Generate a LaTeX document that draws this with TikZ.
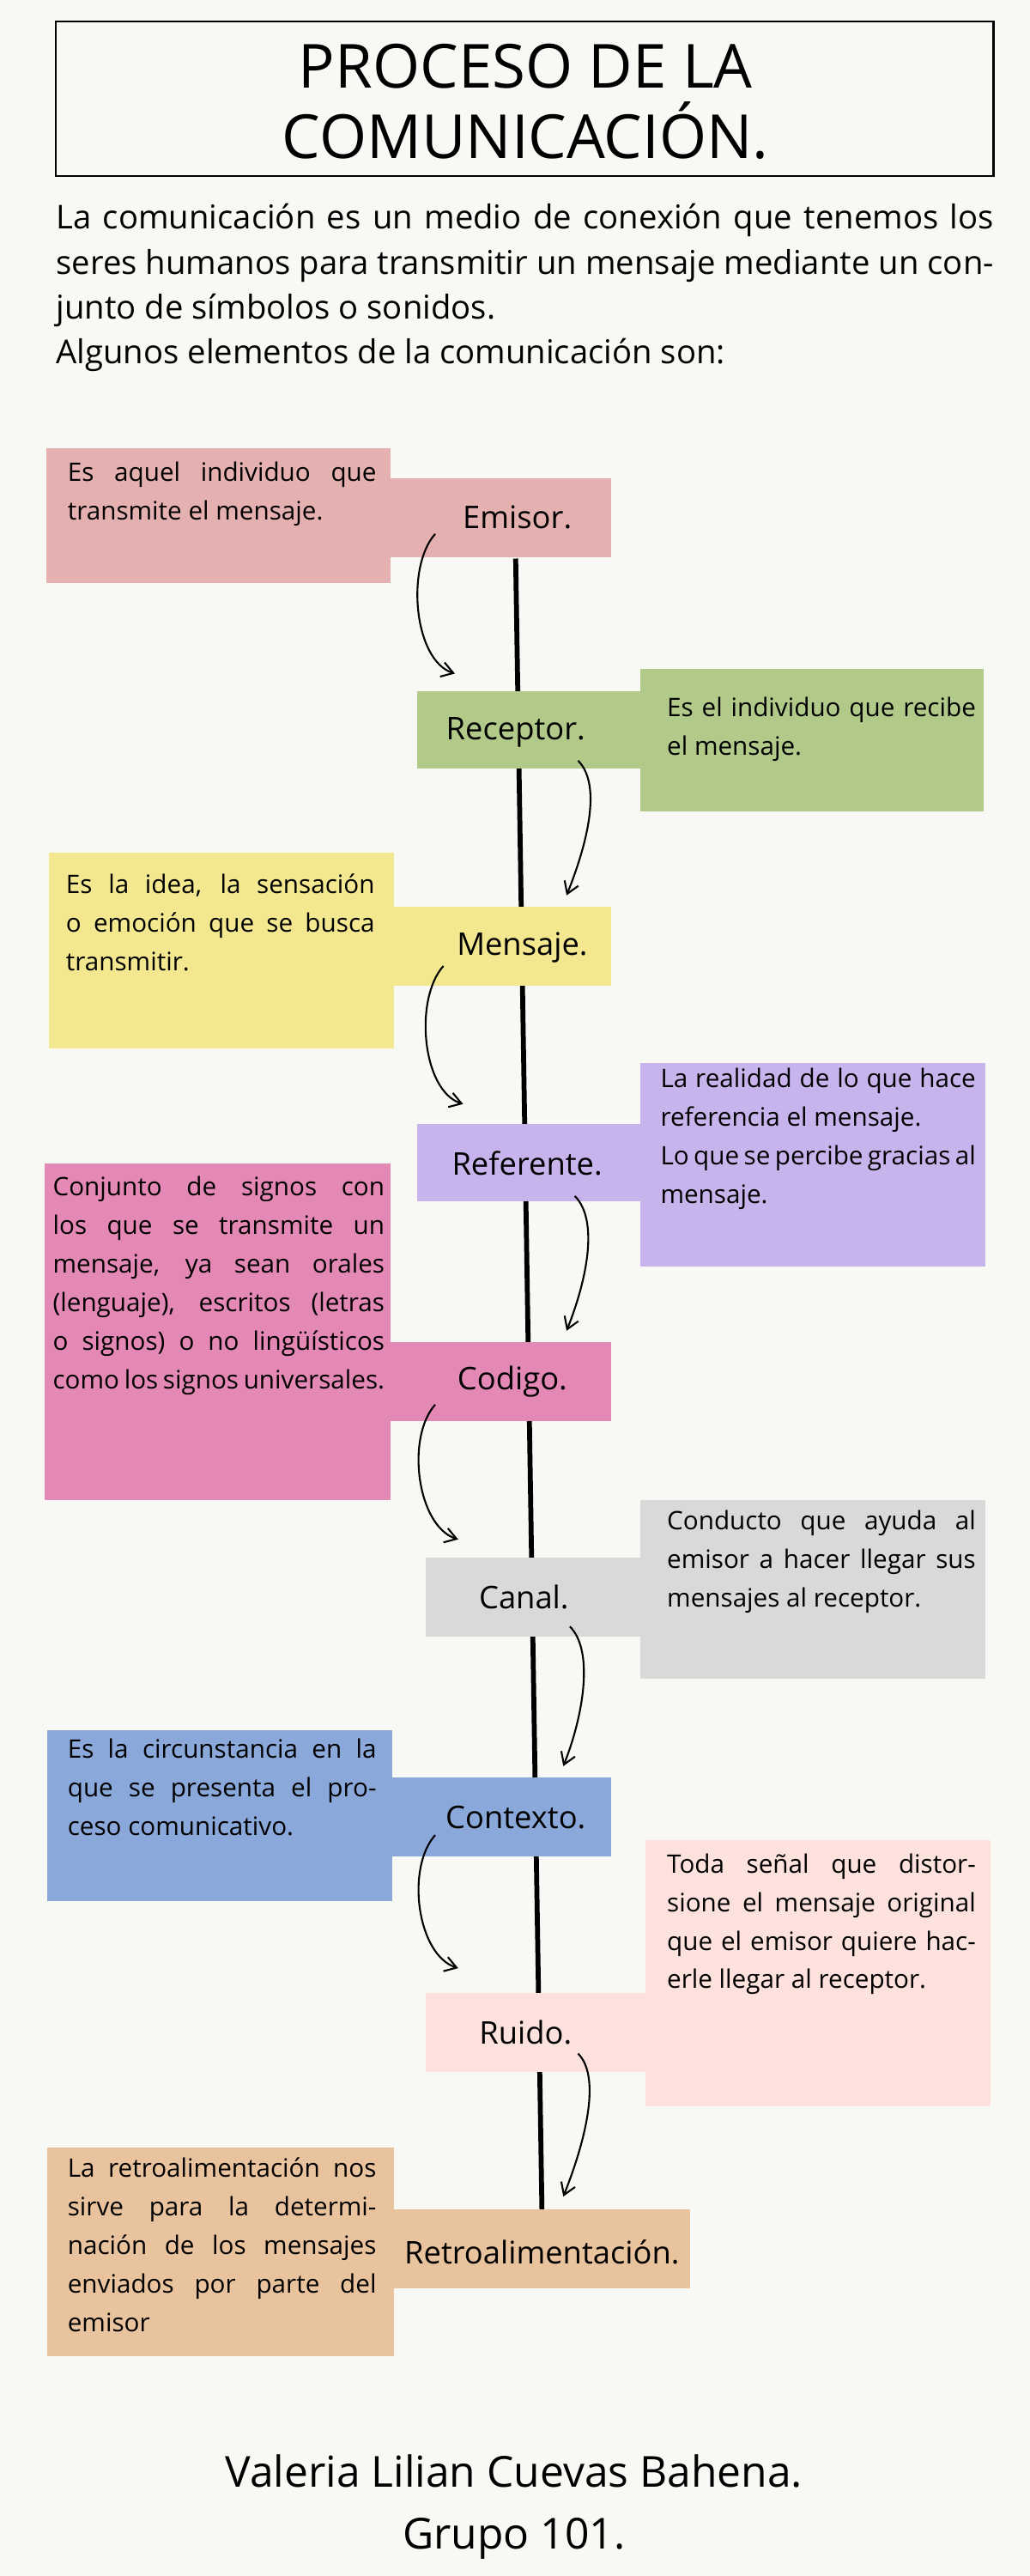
\documentclass[tikz,border=0pt]{standalone}
\usepackage{fontspec}
\setmainfont{Open Sans}
\usetikzlibrary{arrows.meta}
\definecolor{bg}{HTML}{F8F8F4}
\definecolor{cEmi}{HTML}{E5B1B0}
\definecolor{cRec}{HTML}{B1CA8A}
\definecolor{cMen}{HTML}{F3E890}
\definecolor{cRef}{HTML}{C8B4EC}
\definecolor{cCod}{HTML}{E489B6}
\definecolor{cCan}{HTML}{D9D9D9}
\definecolor{cCon}{HTML}{8AA8DA}
\definecolor{cRui}{HTML}{FDE1DC}
\definecolor{cRet}{HTML}{E9C39D}
\tikzset{
  lbl/.style={inner sep=0pt,font=\fontsize{19}{23}\selectfont},
  desc/.style={anchor=north west,inner sep=0pt,text width=#1,align=justify,font=\fontsize{15.5}{23.5}\selectfont},
  arr/.style={-{Straight Barb[length=7pt,width=9pt]},line width=1.1pt,black},
}
\begin{document}
\begin{tikzpicture}[x=1pt,y=-1pt]
\useasboundingbox (0,0) rectangle (627,1568);
\fill[bg] (0,0) rectangle (627,1568);
\draw[line width=1.2pt] (34,13) rectangle (605,107);
\node[inner sep=0pt,align=center,font=\fontsize{37}{43}\selectfont] (title) at (320,62) {PROCESO DE LA\\COMUNICACIÓN.};
\node[anchor=north west,inner sep=0pt,text width=571,align=justify,font=\fontsize{20}{27.3}\selectfont] (intro) at (34,124)
{La comunicación es un medio de conexión que tenemos los seres humanos para transmitir un mensaje mediante un conjunto de símbolos o sonidos.\\Algunos elementos de la comunicación son:};
\coordinate (lt) at (314,340); \coordinate (lb) at (330,1345);
\draw[line width=3pt] (lt) -- (lb);
\fill[cEmi] (28,273) rectangle (238,355); \fill[cEmi] (238,291) rectangle (372,339);
\fill[cRec] (254,421) rectangle (390,468); \fill[cRec] (390,407) rectangle (599,494);
\fill[cMen] (30,519) rectangle (240,638); \fill[cMen] (240,552) rectangle (372,600);
\fill[cRef] (254,684) rectangle (390,731); \fill[cRef] (390,647) rectangle (600,771);
\fill[cCod] (27,708) rectangle (238,913); \fill[cCod] (237,817) rectangle (372,865);
\fill[cCan] (259,948) rectangle (390,996); \fill[cCan] (390,913) rectangle (600,1022);
\fill[cCon] (29,1053) rectangle (239,1157); \fill[cCon] (239,1082) rectangle (372,1130);
\fill[cRui] (259,1213) rectangle (393,1261); \fill[cRui] (393,1120) rectangle (603,1282);
\fill[cRet] (29,1307) rectangle (240,1434); \fill[cRet] (240,1345) rectangle (420,1393);
\node[lbl] (emi) at (315,315) {Emisor.};
\node[lbl] (rec) at (314,446) {Receptor.};
\node[lbl] (men) at (318,577) {Mensaje.};
\node[lbl] (ref) at (321,708) {Referente.};
\node[lbl] (cod) at (312,841) {Codigo.};
\node[lbl] (can) at (319,972) {Canal.};
\node[lbl] (con) at (314,1106) {Contexto.};
\node[lbl] (rui) at (320,1237) {Ruido.};
\node[lbl] (ret) at (330,1371) {Retroalimentación.};
\node[desc=188] (d1) at (41,281) {Es aquel individuo que transmite el mensaje.};
\node[desc=188] (d2) at (406,424) {Es el individuo que recibe el mensaje.};
\node[desc=188] (d3) at (40,532) {Es la idea, la sensación o emoción que se busca transmitir.};
\node[desc=192] (d4) at (402,650) {La realidad de lo que hace referencia el mensaje.\\Lo que se percibe gracias al mensaje.};
\node[desc=202] (d5) at (32,716) {Conjunto de signos con los que se transmite un mensaje, ya sean orales (lenguaje), escritos (letras o signos) o no lingüísticos como los signos universales.};
\node[desc=188] (d6) at (406,919) {Conducto que ayuda al emisor a hacer llegar sus mensajes al receptor.};
\node[desc=188] (d7) at (41,1058) {Es la circunstancia en la que se presenta el proceso comunicativo.};
\node[desc=188] (d8) at (406,1128) {Toda señal que distorsione el mensaje original que el emisor quiere hacerle llegar al receptor.};
\node[desc=188] (d9) at (41,1313) {La retroalimentación nos sirve para la determinación de los mensajes enviados por parte del emisor};
\coordinate (a1) at (265,325); \coordinate (b1) at (277,410);
\coordinate (a2) at (352,463); \coordinate (b2) at (345,545);
\coordinate (a3) at (270,588); \coordinate (b3) at (282,672);
\coordinate (a4) at (350,728); \coordinate (b4) at (345,810);
\coordinate (a5) at (265,855); \coordinate (b5) at (279,937);
\coordinate (a6) at (347,990); \coordinate (b6) at (343,1075);
\coordinate (a7) at (265,1117); \coordinate (b7) at (279,1198);
\coordinate (a8) at (352,1250); \coordinate (b8) at (343,1337);
\foreach \i in {1,3,5,7}{\draw[arr] (a\i) .. controls +(-18,20) and +(-25,-8) .. (b\i);}
\foreach \i in {2,4,6,8}{\draw[arr] (a\i) .. controls +(15,15) and +(12,-30) .. (b\i);}
\node[inner sep=0pt,align=center,font=\fontsize{26}{38}\selectfont] (foot) at (313,1526) {Valeria Lilian Cuevas Bahena.\\Grupo 101.};
\end{tikzpicture}
\end{document}
